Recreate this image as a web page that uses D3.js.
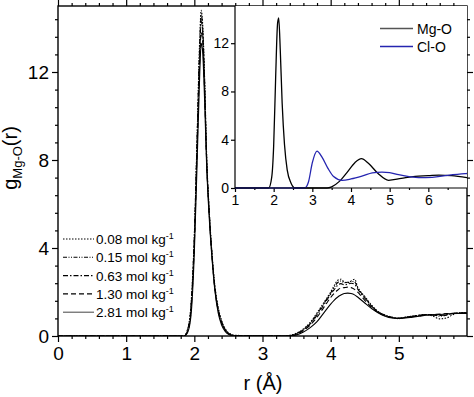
<!DOCTYPE html>
<html>
<head>
<meta charset="utf-8">
<script src="https://cdn.jsdelivr.net/npm/d3@7"></script>
<style>
  body { margin: 0; background: #fff; }
  text { font-family: "Liberation Sans", Arial, sans-serif; fill: #000; }
</style>
</head>
<body>
<script>
// g(r) Mg-O dla roznych stezen + wstawka Mg-O / Cl-O

// wspolna siatka r dla wykresu glownego
const r = [0, 1.8, 1.85, 1.9, 1.95, 2.0, 2.04, 2.08, 2.1, 2.12, 2.15, 2.18, 2.22, 2.26, 2.3, 2.35, 2.4, 2.45, 2.5, 2.6,
  3.3, 3.4, 3.5, 3.6, 3.7, 3.8, 3.9, 4.0, 4.05, 4.1, 4.15, 4.2, 4.25, 4.3, 4.35, 4.4,
  4.5, 4.6, 4.7, 4.8, 4.9, 5.0, 5.1, 5.2, 5.3, 5.4, 5.5, 5.6, 5.7, 5.8, 5.9, 6.0];

const g008 = [0, 0, 0, 0.3, 1.4, 4.6, 9.0, 13.6, 14.8, 14.3, 11.8, 8.3, 5.6, 3.7, 2.3, 1.3, 0.7, 0.35, 0.15, 0.03,
  0, 0.03, 0.13, 0.32, 0.62, 1.05, 1.52, 2.0, 2.28, 2.52, 2.58, 2.45, 2.42, 2.5, 2.58, 2.2,
  1.8, 1.4, 1.1, 0.95, 0.86, 0.8, 0.86, 0.9, 0.95, 0.98, 0.9, 0.78, 0.82, 0.98, 1.05, 1.05];
const g015 = [0, 0, 0, 0.28, 1.3, 4.5, 8.9, 13.3, 14.6, 14.1, 11.7, 8.2, 5.6, 3.7, 2.3, 1.25, 0.66, 0.32, 0.13, 0.02,
  0, 0.02, 0.11, 0.3, 0.58, 1.0, 1.48, 1.95, 2.2, 2.42, 2.5, 2.42, 2.44, 2.48, 2.46, 2.18,
  1.76, 1.38, 1.1, 0.94, 0.84, 0.79, 0.85, 0.9, 0.93, 0.98, 0.96, 0.9, 0.95, 1.03, 1.06, 1.05];
const g063 = [0, 0, 0, 0.25, 1.2, 4.4, 8.7, 13.0, 14.3, 13.9, 11.5, 8.1, 5.5, 3.6, 2.2, 1.2, 0.62, 0.3, 0.12, 0.02,
  0, 0.02, 0.1, 0.28, 0.55, 0.95, 1.42, 1.9, 2.1, 2.3, 2.38, 2.32, 2.36, 2.4, 2.35, 2.12,
  1.72, 1.36, 1.08, 0.93, 0.85, 0.81, 0.86, 0.9, 0.94, 0.97, 0.95, 0.93, 0.97, 1.02, 1.05, 1.06];
const g130 = [0, 0, 0, 0.2, 1.1, 4.2, 8.4, 12.6, 13.8, 13.5, 11.2, 8.0, 5.5, 3.6, 2.2, 1.15, 0.6, 0.28, 0.1, 0.01,
  0, 0.01, 0.08, 0.25, 0.5, 0.85, 1.3, 1.75, 1.93, 2.08, 2.18, 2.2, 2.22, 2.2, 2.12, 1.98,
  1.62, 1.3, 1.06, 0.92, 0.84, 0.8, 0.84, 0.88, 0.92, 0.96, 0.98, 1.0, 1.02, 1.03, 1.04, 1.04];
const g281 = [0, 0, 0, 0.15, 0.9, 3.8, 7.8, 12.0, 13.3, 13.0, 10.8, 7.8, 5.3, 3.5, 2.1, 1.05, 0.5, 0.22, 0.08, 0,
  0, 0, 0.05, 0.18, 0.38, 0.65, 1.05, 1.45, 1.62, 1.76, 1.86, 1.93, 1.95, 1.93, 1.87, 1.76,
  1.5, 1.25, 1.05, 0.9, 0.82, 0.8, 0.82, 0.86, 0.9, 0.94, 0.96, 0.98, 1.0, 1.02, 1.02, 1.03];

const concLabels = ["0.08", "0.15", "0.63", "1.30", "2.81"];
const concSeries = [g008, g015, g063, g130, g281];
const concDash = ["1.5,1.5", "4,1.5,1,1.5,1,1.5", "5,2,1.5,2", "5,3", null];

// wstawka
const rMgO = [1, 1.8, 1.87, 1.95, 2.0, 2.05, 2.1, 2.13, 2.17, 2.22, 2.28, 2.35, 2.45, 2.56, 3.38, 3.5, 3.7, 3.9, 4.1, 4.27,
  4.45, 4.7, 4.97, 5.3, 5.66, 6.0, 6.27, 6.6, 7.0];
const gMgO = [0, 0, 0, 0.9, 3.5, 9.0, 13.6, 14.1, 11.5, 7.0, 3.6, 1.5, 0.4, 0, 0, 0.1, 0.55, 1.3, 2.1, 2.43,
  2.05, 1.2, 0.64, 0.8, 0.97, 1.02, 1.07, 1.02, 0.86];
const rClO = [1, 2.8, 2.9, 3.0, 3.12, 3.25, 3.4, 3.55, 3.77, 4.0, 4.3, 4.55, 4.8, 5.0, 5.23, 5.5, 5.75, 6.1, 6.5, 6.95, 7.0];
const gClO = [0, 0, 0.5, 2.1, 3.06, 2.55, 1.65, 0.95, 0.64, 0.75, 1.0, 1.25, 1.32, 1.28, 1.1, 0.95, 0.86, 0.88, 1.05, 1.19, 1.2];

const insetNames = ["Mg-O", "Cl-O"];
const insetColors = ["#000", "#2525b0"];

const xTicks = [0, 1, 2, 3, 4, 5];
const yTicks = [0, 4, 8, 12];
const xiTicks = [1, 2, 3, 4, 5, 6];
const yiTicks = [0, 4, 8, 12];

const svg = d3.select("body").append("svg")
  .attr("width", 474)
  .attr("height", 397);

const x = d3.scaleLinear().domain([0, 6]).range([58, 467]);
const y = d3.scaleLinear().domain([0, 15]).range([336, 6]);

const xMinor = d3.range(0.2, 6, 0.2).filter(v => Math.abs(v - Math.round(v)) > 0.01);
const yMinor = d3.range(0.8, 15, 0.8).filter(v => Math.abs(v / 4 - Math.round(v / 4)) > 0.01);

function styleAxis(g, fs) {
  g.select(".domain").remove();
  g.selectAll("line").attr("stroke", "#000").attr("stroke-width", 1.2);
  g.selectAll("text").attr("font-size", fs).attr("fill", "#000")
    .attr("font-family", "Liberation Sans, Arial, sans-serif");
}

// osie glowne
svg.append("g").attr("transform", "translate(0,336)")
  .call(d3.axisBottom(x).tickValues(xMinor).tickSize(3).tickFormat(""))
  .call(g => styleAxis(g, 19));
svg.append("g").attr("transform", "translate(0,336)")
  .call(d3.axisBottom(x).tickValues(xTicks).tickSize(6).tickPadding(5).tickFormat(d3.format("d")))
  .call(g => styleAxis(g, 19));
svg.append("g").attr("transform", "translate(0,6)")
  .call(d3.axisTop(x).tickValues(xMinor).tickSize(3).tickFormat(""))
  .call(g => styleAxis(g, 19));
svg.append("g").attr("transform", "translate(0,6)")
  .call(d3.axisTop(x).tickValues(xTicks).tickSize(6).tickFormat(""))
  .call(g => styleAxis(g, 19));
svg.append("g").attr("transform", "translate(58,0)")
  .call(d3.axisLeft(y).tickValues(yMinor).tickSize(3).tickFormat(""))
  .call(g => styleAxis(g, 19));
svg.append("g").attr("transform", "translate(58,0)")
  .call(d3.axisLeft(y).tickValues(yTicks).tickSize(6).tickPadding(3).tickFormat(d3.format("d")))
  .call(g => styleAxis(g, 19));
svg.append("g").attr("transform", "translate(467,0)")
  .call(d3.axisRight(y).tickValues(yMinor).tickSize(3).tickFormat(""))
  .call(g => styleAxis(g, 19));
svg.append("g").attr("transform", "translate(467,0)")
  .call(d3.axisRight(y).tickValues(yTicks).tickSize(6).tickFormat(""))
  .call(g => styleAxis(g, 19));

svg.append("clipPath").attr("id", "clip")
  .append("rect").attr("x", 58).attr("y", 6).attr("width", 409).attr("height", 330);

const line = d3.line()
  .x((d, i) => x(r[i]))
  .y(d => y(d))
  .curve(d3.curveMonotoneX);

svg.append("g").attr("clip-path", "url(#clip)")
  .selectAll("path")
  .data(concSeries)
  .enter()
  .append("path")
  .attr("d", d => line(d))
  .attr("fill", "none")
  .attr("stroke", "#000")
  .attr("stroke-width", 1.1)
  .attr("stroke-dasharray", (d, i) => concDash[i]);

// legenda glowna
const leg = svg.append("g");
concLabels.forEach((lab, i) => {
  const yy = 239 + i * 18.3;
  leg.append("line")
    .attr("x1", 63).attr("x2", 94).attr("y1", yy).attr("y2", yy)
    .attr("stroke", i === 4 ? "#555" : "#000")
    .attr("stroke-width", 1.1)
    .attr("stroke-dasharray", concDash[i]);
  const t = leg.append("text").attr("x", 96).attr("y", yy + 5).attr("font-size", 13.5);
  t.append("tspan").text(lab + " mol kg");
  t.append("tspan").attr("dy", -5).attr("font-size", 9).text("-1");
});

// ramka
svg.append("rect")
  .attr("x", 58).attr("y", 6).attr("width", 409).attr("height", 330)
  .attr("fill", "none").attr("stroke", "#000").attr("stroke-width", 1.4);

// etykiety osi
svg.append("text")
  .attr("x", 263).attr("y", 390)
  .attr("text-anchor", "middle")
  .attr("font-size", 20)
  .text("r (Å)");

const yl = svg.append("text")
  .attr("transform", "translate(17,158) rotate(-90)")
  .attr("text-anchor", "middle")
  .attr("font-size", 20);
yl.append("tspan").text("g");
yl.append("tspan").attr("font-size", 13).attr("dy", 5).text("Mg-O");
yl.append("tspan").attr("dy", -5).text("(r)");

// wstawka
const xi = d3.scaleLinear().domain([1, 7]).range([235, 467]);
const yi = d3.scaleLinear().domain([0, 15]).range([188, 7]);

svg.append("rect")
  .attr("x", 235).attr("y", 6).attr("width", 232).attr("height", 182)
  .attr("fill", "#fff");

svg.append("g").attr("transform", "translate(235,0)")
  .call(d3.axisLeft(yi).tickValues(yiTicks).tickSize(4).tickPadding(2).tickFormat(d3.format("d")))
  .call(g => styleAxis(g, 14));
svg.append("g").attr("transform", "translate(0,188)")
  .call(d3.axisBottom(xi).tickValues(d3.range(1.5, 7, 1)).tickSize(2).tickFormat(""))
  .call(g => styleAxis(g, 14));
svg.append("g").attr("transform", "translate(0,188)")
  .call(d3.axisBottom(xi).tickValues(xiTicks).tickSize(4).tickPadding(3).tickFormat(d3.format("d")))
  .call(g => styleAxis(g, 14));

const insetData = [
  rMgO.map((v, i) => [v, gMgO[i]]),
  rClO.map((v, i) => [v, gClO[i]])
];
const lineI = d3.line()
  .x(d => xi(d[0]))
  .y(d => yi(d[1]))
  .curve(d3.curveMonotoneX);

svg.append("g")
  .selectAll("path")
  .data(insetData)
  .enter()
  .append("path")
  .attr("d", lineI)
  .attr("fill", "none")
  .attr("stroke", (d, i) => insetColors[i])
  .attr("stroke-width", 1.3);

svg.append("path")
  .attr("d", "M235,6V188H467")
  .attr("fill", "none").attr("stroke", "#000").attr("stroke-width", 1.2);

insetNames.forEach((n, i) => {
  const yy = 28.5 + i * 18;
  svg.append("line")
    .attr("x1", 380).attr("x2", 413).attr("y1", yy).attr("y2", yy)
    .attr("stroke", i === 0 ? "#555" : insetColors[i]).attr("stroke-width", 1.3);
  svg.append("text").attr("x", 417).attr("y", yy + 5).attr("font-size", 14).text(n);
});
</script>
</body>
</html>
